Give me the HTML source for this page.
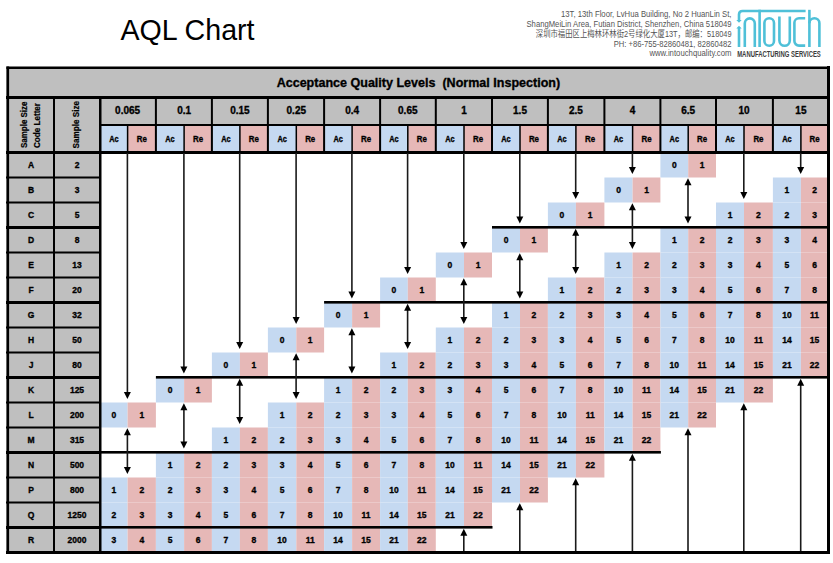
<!DOCTYPE html>
<html><head><meta charset="utf-8"><title>AQL Chart</title>
<style>html,body{margin:0;padding:0;background:#fff;}body{width:833px;height:563px;position:relative;overflow:hidden;}</style>
</head><body>
<svg width="833" height="563" viewBox="0 0 833 563" style="position:absolute;left:0;top:0"><rect x="8" y="68" width="820" height="29" fill="#bfbfbf"/><rect x="8" y="97" width="92" height="56" fill="#bfbfbf"/><rect x="100" y="97" width="729" height="28" fill="#bfbfbf"/><rect x="100.2" y="125" width="27.4" height="27" fill="#c5d9f1"/><rect x="127.6" y="125" width="28.3" height="27" fill="#e6b8b7"/><rect x="155.9" y="125" width="28.2" height="27" fill="#c5d9f1"/><rect x="184.1" y="125" width="27.8" height="27" fill="#e6b8b7"/><rect x="211.9" y="125" width="28.0" height="27" fill="#c5d9f1"/><rect x="239.9" y="125" width="28.0" height="27" fill="#e6b8b7"/><rect x="267.9" y="125" width="28.4" height="27" fill="#c5d9f1"/><rect x="296.3" y="125" width="27.8" height="27" fill="#e6b8b7"/><rect x="324.1" y="125" width="28.0" height="27" fill="#c5d9f1"/><rect x="352.1" y="125" width="28.0" height="27" fill="#e6b8b7"/><rect x="380.1" y="125" width="27.7" height="27" fill="#c5d9f1"/><rect x="407.8" y="125" width="28.0" height="27" fill="#e6b8b7"/><rect x="435.8" y="125" width="28.2" height="27" fill="#c5d9f1"/><rect x="464.0" y="125" width="28.0" height="27" fill="#e6b8b7"/><rect x="492.0" y="125" width="28.0" height="27" fill="#c5d9f1"/><rect x="520.0" y="125" width="27.9" height="27" fill="#e6b8b7"/><rect x="547.9" y="125" width="28.0" height="27" fill="#c5d9f1"/><rect x="575.9" y="125" width="28.5" height="27" fill="#e6b8b7"/><rect x="604.4" y="125" width="28.2" height="27" fill="#c5d9f1"/><rect x="632.6" y="125" width="27.8" height="27" fill="#e6b8b7"/><rect x="660.4" y="125" width="27.8" height="27" fill="#c5d9f1"/><rect x="688.2" y="125" width="27.8" height="27" fill="#e6b8b7"/><rect x="716.0" y="125" width="28.0" height="27" fill="#c5d9f1"/><rect x="744.0" y="125" width="28.9" height="27" fill="#e6b8b7"/><rect x="772.9" y="125" width="28.0" height="27" fill="#c5d9f1"/><rect x="800.9" y="125" width="27.3" height="27" fill="#e6b8b7"/><rect x="8" y="152" width="92" height="400" fill="#bfbfbf"/><rect x="100" y="152" width="728" height="400" fill="#fff"/><rect x="660.4" y="152.5" width="27.8" height="25" fill="#c5d9f1"/><rect x="688.2" y="152.5" width="27.8" height="25" fill="#e6b8b7"/><rect x="604.4" y="177.5" width="28.2" height="25" fill="#c5d9f1"/><rect x="632.6" y="177.5" width="27.8" height="25" fill="#e6b8b7"/><rect x="772.9" y="177.5" width="28.0" height="25" fill="#c5d9f1"/><rect x="800.9" y="177.5" width="27.3" height="25" fill="#e6b8b7"/><rect x="547.9" y="202.5" width="28.0" height="25" fill="#c5d9f1"/><rect x="575.9" y="202.5" width="28.5" height="25" fill="#e6b8b7"/><rect x="716.0" y="202.5" width="28.0" height="25" fill="#c5d9f1"/><rect x="744.0" y="202.5" width="28.9" height="25" fill="#e6b8b7"/><rect x="772.9" y="202.5" width="28.0" height="25" fill="#c5d9f1"/><rect x="800.9" y="202.5" width="27.3" height="25" fill="#e6b8b7"/><rect x="492.0" y="227.5" width="28.0" height="25" fill="#c5d9f1"/><rect x="520.0" y="227.5" width="27.9" height="25" fill="#e6b8b7"/><rect x="660.4" y="227.5" width="27.8" height="25" fill="#c5d9f1"/><rect x="688.2" y="227.5" width="27.8" height="25" fill="#e6b8b7"/><rect x="716.0" y="227.5" width="28.0" height="25" fill="#c5d9f1"/><rect x="744.0" y="227.5" width="28.9" height="25" fill="#e6b8b7"/><rect x="772.9" y="227.5" width="28.0" height="25" fill="#c5d9f1"/><rect x="800.9" y="227.5" width="27.3" height="25" fill="#e6b8b7"/><rect x="435.8" y="252.5" width="28.2" height="25" fill="#c5d9f1"/><rect x="464.0" y="252.5" width="28.0" height="25" fill="#e6b8b7"/><rect x="604.4" y="252.5" width="28.2" height="25" fill="#c5d9f1"/><rect x="632.6" y="252.5" width="27.8" height="25" fill="#e6b8b7"/><rect x="660.4" y="252.5" width="27.8" height="25" fill="#c5d9f1"/><rect x="688.2" y="252.5" width="27.8" height="25" fill="#e6b8b7"/><rect x="716.0" y="252.5" width="28.0" height="25" fill="#c5d9f1"/><rect x="744.0" y="252.5" width="28.9" height="25" fill="#e6b8b7"/><rect x="772.9" y="252.5" width="28.0" height="25" fill="#c5d9f1"/><rect x="800.9" y="252.5" width="27.3" height="25" fill="#e6b8b7"/><rect x="380.1" y="277.5" width="27.7" height="25" fill="#c5d9f1"/><rect x="407.8" y="277.5" width="28.0" height="25" fill="#e6b8b7"/><rect x="547.9" y="277.5" width="28.0" height="25" fill="#c5d9f1"/><rect x="575.9" y="277.5" width="28.5" height="25" fill="#e6b8b7"/><rect x="604.4" y="277.5" width="28.2" height="25" fill="#c5d9f1"/><rect x="632.6" y="277.5" width="27.8" height="25" fill="#e6b8b7"/><rect x="660.4" y="277.5" width="27.8" height="25" fill="#c5d9f1"/><rect x="688.2" y="277.5" width="27.8" height="25" fill="#e6b8b7"/><rect x="716.0" y="277.5" width="28.0" height="25" fill="#c5d9f1"/><rect x="744.0" y="277.5" width="28.9" height="25" fill="#e6b8b7"/><rect x="772.9" y="277.5" width="28.0" height="25" fill="#c5d9f1"/><rect x="800.9" y="277.5" width="27.3" height="25" fill="#e6b8b7"/><rect x="324.1" y="302.5" width="28.0" height="25" fill="#c5d9f1"/><rect x="352.1" y="302.5" width="28.0" height="25" fill="#e6b8b7"/><rect x="492.0" y="302.5" width="28.0" height="25" fill="#c5d9f1"/><rect x="520.0" y="302.5" width="27.9" height="25" fill="#e6b8b7"/><rect x="547.9" y="302.5" width="28.0" height="25" fill="#c5d9f1"/><rect x="575.9" y="302.5" width="28.5" height="25" fill="#e6b8b7"/><rect x="604.4" y="302.5" width="28.2" height="25" fill="#c5d9f1"/><rect x="632.6" y="302.5" width="27.8" height="25" fill="#e6b8b7"/><rect x="660.4" y="302.5" width="27.8" height="25" fill="#c5d9f1"/><rect x="688.2" y="302.5" width="27.8" height="25" fill="#e6b8b7"/><rect x="716.0" y="302.5" width="28.0" height="25" fill="#c5d9f1"/><rect x="744.0" y="302.5" width="28.9" height="25" fill="#e6b8b7"/><rect x="772.9" y="302.5" width="28.0" height="25" fill="#c5d9f1"/><rect x="800.9" y="302.5" width="27.3" height="25" fill="#e6b8b7"/><rect x="267.9" y="327.5" width="28.4" height="25" fill="#c5d9f1"/><rect x="296.3" y="327.5" width="27.8" height="25" fill="#e6b8b7"/><rect x="435.8" y="327.5" width="28.2" height="25" fill="#c5d9f1"/><rect x="464.0" y="327.5" width="28.0" height="25" fill="#e6b8b7"/><rect x="492.0" y="327.5" width="28.0" height="25" fill="#c5d9f1"/><rect x="520.0" y="327.5" width="27.9" height="25" fill="#e6b8b7"/><rect x="547.9" y="327.5" width="28.0" height="25" fill="#c5d9f1"/><rect x="575.9" y="327.5" width="28.5" height="25" fill="#e6b8b7"/><rect x="604.4" y="327.5" width="28.2" height="25" fill="#c5d9f1"/><rect x="632.6" y="327.5" width="27.8" height="25" fill="#e6b8b7"/><rect x="660.4" y="327.5" width="27.8" height="25" fill="#c5d9f1"/><rect x="688.2" y="327.5" width="27.8" height="25" fill="#e6b8b7"/><rect x="716.0" y="327.5" width="28.0" height="25" fill="#c5d9f1"/><rect x="744.0" y="327.5" width="28.9" height="25" fill="#e6b8b7"/><rect x="772.9" y="327.5" width="28.0" height="25" fill="#c5d9f1"/><rect x="800.9" y="327.5" width="27.3" height="25" fill="#e6b8b7"/><rect x="211.9" y="352.5" width="28.0" height="25" fill="#c5d9f1"/><rect x="239.9" y="352.5" width="28.0" height="25" fill="#e6b8b7"/><rect x="380.1" y="352.5" width="27.7" height="25" fill="#c5d9f1"/><rect x="407.8" y="352.5" width="28.0" height="25" fill="#e6b8b7"/><rect x="435.8" y="352.5" width="28.2" height="25" fill="#c5d9f1"/><rect x="464.0" y="352.5" width="28.0" height="25" fill="#e6b8b7"/><rect x="492.0" y="352.5" width="28.0" height="25" fill="#c5d9f1"/><rect x="520.0" y="352.5" width="27.9" height="25" fill="#e6b8b7"/><rect x="547.9" y="352.5" width="28.0" height="25" fill="#c5d9f1"/><rect x="575.9" y="352.5" width="28.5" height="25" fill="#e6b8b7"/><rect x="604.4" y="352.5" width="28.2" height="25" fill="#c5d9f1"/><rect x="632.6" y="352.5" width="27.8" height="25" fill="#e6b8b7"/><rect x="660.4" y="352.5" width="27.8" height="25" fill="#c5d9f1"/><rect x="688.2" y="352.5" width="27.8" height="25" fill="#e6b8b7"/><rect x="716.0" y="352.5" width="28.0" height="25" fill="#c5d9f1"/><rect x="744.0" y="352.5" width="28.9" height="25" fill="#e6b8b7"/><rect x="772.9" y="352.5" width="28.0" height="25" fill="#c5d9f1"/><rect x="800.9" y="352.5" width="27.3" height="25" fill="#e6b8b7"/><rect x="155.9" y="377.5" width="28.2" height="25" fill="#c5d9f1"/><rect x="184.1" y="377.5" width="27.8" height="25" fill="#e6b8b7"/><rect x="324.1" y="377.5" width="28.0" height="25" fill="#c5d9f1"/><rect x="352.1" y="377.5" width="28.0" height="25" fill="#e6b8b7"/><rect x="380.1" y="377.5" width="27.7" height="25" fill="#c5d9f1"/><rect x="407.8" y="377.5" width="28.0" height="25" fill="#e6b8b7"/><rect x="435.8" y="377.5" width="28.2" height="25" fill="#c5d9f1"/><rect x="464.0" y="377.5" width="28.0" height="25" fill="#e6b8b7"/><rect x="492.0" y="377.5" width="28.0" height="25" fill="#c5d9f1"/><rect x="520.0" y="377.5" width="27.9" height="25" fill="#e6b8b7"/><rect x="547.9" y="377.5" width="28.0" height="25" fill="#c5d9f1"/><rect x="575.9" y="377.5" width="28.5" height="25" fill="#e6b8b7"/><rect x="604.4" y="377.5" width="28.2" height="25" fill="#c5d9f1"/><rect x="632.6" y="377.5" width="27.8" height="25" fill="#e6b8b7"/><rect x="660.4" y="377.5" width="27.8" height="25" fill="#c5d9f1"/><rect x="688.2" y="377.5" width="27.8" height="25" fill="#e6b8b7"/><rect x="716.0" y="377.5" width="28.0" height="25" fill="#c5d9f1"/><rect x="744.0" y="377.5" width="28.9" height="25" fill="#e6b8b7"/><rect x="100.2" y="402.5" width="27.4" height="25" fill="#c5d9f1"/><rect x="127.6" y="402.5" width="28.3" height="25" fill="#e6b8b7"/><rect x="267.9" y="402.5" width="28.4" height="25" fill="#c5d9f1"/><rect x="296.3" y="402.5" width="27.8" height="25" fill="#e6b8b7"/><rect x="324.1" y="402.5" width="28.0" height="25" fill="#c5d9f1"/><rect x="352.1" y="402.5" width="28.0" height="25" fill="#e6b8b7"/><rect x="380.1" y="402.5" width="27.7" height="25" fill="#c5d9f1"/><rect x="407.8" y="402.5" width="28.0" height="25" fill="#e6b8b7"/><rect x="435.8" y="402.5" width="28.2" height="25" fill="#c5d9f1"/><rect x="464.0" y="402.5" width="28.0" height="25" fill="#e6b8b7"/><rect x="492.0" y="402.5" width="28.0" height="25" fill="#c5d9f1"/><rect x="520.0" y="402.5" width="27.9" height="25" fill="#e6b8b7"/><rect x="547.9" y="402.5" width="28.0" height="25" fill="#c5d9f1"/><rect x="575.9" y="402.5" width="28.5" height="25" fill="#e6b8b7"/><rect x="604.4" y="402.5" width="28.2" height="25" fill="#c5d9f1"/><rect x="632.6" y="402.5" width="27.8" height="25" fill="#e6b8b7"/><rect x="660.4" y="402.5" width="27.8" height="25" fill="#c5d9f1"/><rect x="688.2" y="402.5" width="27.8" height="25" fill="#e6b8b7"/><rect x="211.9" y="427.5" width="28.0" height="25" fill="#c5d9f1"/><rect x="239.9" y="427.5" width="28.0" height="25" fill="#e6b8b7"/><rect x="267.9" y="427.5" width="28.4" height="25" fill="#c5d9f1"/><rect x="296.3" y="427.5" width="27.8" height="25" fill="#e6b8b7"/><rect x="324.1" y="427.5" width="28.0" height="25" fill="#c5d9f1"/><rect x="352.1" y="427.5" width="28.0" height="25" fill="#e6b8b7"/><rect x="380.1" y="427.5" width="27.7" height="25" fill="#c5d9f1"/><rect x="407.8" y="427.5" width="28.0" height="25" fill="#e6b8b7"/><rect x="435.8" y="427.5" width="28.2" height="25" fill="#c5d9f1"/><rect x="464.0" y="427.5" width="28.0" height="25" fill="#e6b8b7"/><rect x="492.0" y="427.5" width="28.0" height="25" fill="#c5d9f1"/><rect x="520.0" y="427.5" width="27.9" height="25" fill="#e6b8b7"/><rect x="547.9" y="427.5" width="28.0" height="25" fill="#c5d9f1"/><rect x="575.9" y="427.5" width="28.5" height="25" fill="#e6b8b7"/><rect x="604.4" y="427.5" width="28.2" height="25" fill="#c5d9f1"/><rect x="632.6" y="427.5" width="27.8" height="25" fill="#e6b8b7"/><rect x="155.9" y="452.5" width="28.2" height="25" fill="#c5d9f1"/><rect x="184.1" y="452.5" width="27.8" height="25" fill="#e6b8b7"/><rect x="211.9" y="452.5" width="28.0" height="25" fill="#c5d9f1"/><rect x="239.9" y="452.5" width="28.0" height="25" fill="#e6b8b7"/><rect x="267.9" y="452.5" width="28.4" height="25" fill="#c5d9f1"/><rect x="296.3" y="452.5" width="27.8" height="25" fill="#e6b8b7"/><rect x="324.1" y="452.5" width="28.0" height="25" fill="#c5d9f1"/><rect x="352.1" y="452.5" width="28.0" height="25" fill="#e6b8b7"/><rect x="380.1" y="452.5" width="27.7" height="25" fill="#c5d9f1"/><rect x="407.8" y="452.5" width="28.0" height="25" fill="#e6b8b7"/><rect x="435.8" y="452.5" width="28.2" height="25" fill="#c5d9f1"/><rect x="464.0" y="452.5" width="28.0" height="25" fill="#e6b8b7"/><rect x="492.0" y="452.5" width="28.0" height="25" fill="#c5d9f1"/><rect x="520.0" y="452.5" width="27.9" height="25" fill="#e6b8b7"/><rect x="547.9" y="452.5" width="28.0" height="25" fill="#c5d9f1"/><rect x="575.9" y="452.5" width="28.5" height="25" fill="#e6b8b7"/><rect x="100.2" y="477.5" width="27.4" height="25" fill="#c5d9f1"/><rect x="127.6" y="477.5" width="28.3" height="25" fill="#e6b8b7"/><rect x="155.9" y="477.5" width="28.2" height="25" fill="#c5d9f1"/><rect x="184.1" y="477.5" width="27.8" height="25" fill="#e6b8b7"/><rect x="211.9" y="477.5" width="28.0" height="25" fill="#c5d9f1"/><rect x="239.9" y="477.5" width="28.0" height="25" fill="#e6b8b7"/><rect x="267.9" y="477.5" width="28.4" height="25" fill="#c5d9f1"/><rect x="296.3" y="477.5" width="27.8" height="25" fill="#e6b8b7"/><rect x="324.1" y="477.5" width="28.0" height="25" fill="#c5d9f1"/><rect x="352.1" y="477.5" width="28.0" height="25" fill="#e6b8b7"/><rect x="380.1" y="477.5" width="27.7" height="25" fill="#c5d9f1"/><rect x="407.8" y="477.5" width="28.0" height="25" fill="#e6b8b7"/><rect x="435.8" y="477.5" width="28.2" height="25" fill="#c5d9f1"/><rect x="464.0" y="477.5" width="28.0" height="25" fill="#e6b8b7"/><rect x="492.0" y="477.5" width="28.0" height="25" fill="#c5d9f1"/><rect x="520.0" y="477.5" width="27.9" height="25" fill="#e6b8b7"/><rect x="100.2" y="502.5" width="27.4" height="25" fill="#c5d9f1"/><rect x="127.6" y="502.5" width="28.3" height="25" fill="#e6b8b7"/><rect x="155.9" y="502.5" width="28.2" height="25" fill="#c5d9f1"/><rect x="184.1" y="502.5" width="27.8" height="25" fill="#e6b8b7"/><rect x="211.9" y="502.5" width="28.0" height="25" fill="#c5d9f1"/><rect x="239.9" y="502.5" width="28.0" height="25" fill="#e6b8b7"/><rect x="267.9" y="502.5" width="28.4" height="25" fill="#c5d9f1"/><rect x="296.3" y="502.5" width="27.8" height="25" fill="#e6b8b7"/><rect x="324.1" y="502.5" width="28.0" height="25" fill="#c5d9f1"/><rect x="352.1" y="502.5" width="28.0" height="25" fill="#e6b8b7"/><rect x="380.1" y="502.5" width="27.7" height="25" fill="#c5d9f1"/><rect x="407.8" y="502.5" width="28.0" height="25" fill="#e6b8b7"/><rect x="435.8" y="502.5" width="28.2" height="25" fill="#c5d9f1"/><rect x="464.0" y="502.5" width="28.0" height="25" fill="#e6b8b7"/><rect x="100.2" y="527.5" width="27.4" height="25" fill="#c5d9f1"/><rect x="127.6" y="527.5" width="28.3" height="25" fill="#e6b8b7"/><rect x="155.9" y="527.5" width="28.2" height="25" fill="#c5d9f1"/><rect x="184.1" y="527.5" width="27.8" height="25" fill="#e6b8b7"/><rect x="211.9" y="527.5" width="28.0" height="25" fill="#c5d9f1"/><rect x="239.9" y="527.5" width="28.0" height="25" fill="#e6b8b7"/><rect x="267.9" y="527.5" width="28.4" height="25" fill="#c5d9f1"/><rect x="296.3" y="527.5" width="27.8" height="25" fill="#e6b8b7"/><rect x="324.1" y="527.5" width="28.0" height="25" fill="#c5d9f1"/><rect x="352.1" y="527.5" width="28.0" height="25" fill="#e6b8b7"/><rect x="380.1" y="527.5" width="27.7" height="25" fill="#c5d9f1"/><rect x="407.8" y="527.5" width="28.0" height="25" fill="#e6b8b7"/><rect x="6.4" y="66.5" width="823.6" height="2.5" fill="#000"/><rect x="6" y="551" width="824" height="3" fill="#000"/><rect x="6.4" y="66.5" width="2.7" height="487.5" fill="#000"/><rect x="827" y="66" width="3" height="488" fill="#000"/><rect x="6" y="96" width="824" height="3" fill="#000"/><rect x="100" y="124" width="728" height="2" fill="#000"/><rect x="6" y="151" width="824" height="3" fill="#000"/><rect x="53" y="96" width="2" height="456" fill="#000"/><rect x="99" y="96" width="2.5" height="456" fill="#000"/><rect x="126.85" y="124" width="1.5" height="29" fill="#000"/><rect x="154.9" y="96" width="2" height="57" fill="#000"/><rect x="183.35" y="124" width="1.5" height="29" fill="#000"/><rect x="210.9" y="96" width="2" height="57" fill="#000"/><rect x="239.15" y="124" width="1.5" height="29" fill="#000"/><rect x="266.9" y="96" width="2" height="57" fill="#000"/><rect x="295.55" y="124" width="1.5" height="29" fill="#000"/><rect x="323.1" y="96" width="2" height="57" fill="#000"/><rect x="351.35" y="124" width="1.5" height="29" fill="#000"/><rect x="379.1" y="96" width="2" height="57" fill="#000"/><rect x="407.05" y="124" width="1.5" height="29" fill="#000"/><rect x="434.8" y="96" width="2" height="57" fill="#000"/><rect x="463.25" y="124" width="1.5" height="29" fill="#000"/><rect x="491.0" y="96" width="2" height="57" fill="#000"/><rect x="519.25" y="124" width="1.5" height="29" fill="#000"/><rect x="546.9" y="96" width="2" height="57" fill="#000"/><rect x="575.15" y="124" width="1.5" height="29" fill="#000"/><rect x="603.4" y="96" width="2" height="57" fill="#000"/><rect x="631.85" y="124" width="1.5" height="29" fill="#000"/><rect x="659.4" y="96" width="2" height="57" fill="#000"/><rect x="687.45" y="124" width="1.5" height="29" fill="#000"/><rect x="715.0" y="96" width="2" height="57" fill="#000"/><rect x="743.25" y="124" width="1.5" height="29" fill="#000"/><rect x="771.9" y="96" width="2" height="57" fill="#000"/><rect x="800.15" y="124" width="1.5" height="29" fill="#000"/><rect x="6" y="176.5" width="94" height="2" fill="#000"/><rect x="6" y="201.5" width="94" height="2" fill="#000"/><rect x="6" y="226" width="94" height="3" fill="#000"/><rect x="6" y="251.5" width="94" height="2" fill="#000"/><rect x="6" y="276.5" width="94" height="2" fill="#000"/><rect x="6" y="301" width="94" height="3" fill="#000"/><rect x="6" y="326.5" width="94" height="2" fill="#000"/><rect x="6" y="351.5" width="94" height="2" fill="#000"/><rect x="6" y="376" width="94" height="3" fill="#000"/><rect x="6" y="401.5" width="94" height="2" fill="#000"/><rect x="6" y="426.5" width="94" height="2" fill="#000"/><rect x="6" y="451" width="94" height="3" fill="#000"/><rect x="6" y="476.5" width="94" height="2" fill="#000"/><rect x="6" y="501.5" width="94" height="2" fill="#000"/><rect x="6" y="526" width="94" height="3" fill="#000"/><rect x="492.0" y="226" width="338.0" height="2.6" fill="#000"/><rect x="324.1" y="301" width="505.9" height="2.6" fill="#000"/><rect x="155.9" y="376" width="674.1" height="2.6" fill="#000"/><rect x="99" y="451" width="561.9" height="2.6" fill="#000"/><rect x="99" y="526" width="393.5" height="2.6" fill="#000"/><rect x="126.6" y="153" width="1.6" height="242.1" fill="#1a1a1a"/><path d="M123.9 392.1 L127.4 399.1 L130.9 392.1Z" fill="#000"/><rect x="126.6" y="432.2" width="1.6" height="37.9" fill="#1a1a1a"/><path d="M123.9 435.2 L127.4 428.2 L130.9 435.2Z" fill="#000"/><path d="M123.9 467.1 L127.4 474.1 L130.9 467.1Z" fill="#000"/><rect x="183.1" y="153" width="1.6" height="216.6" fill="#1a1a1a"/><path d="M180.4 366.6 L183.9 373.6 L187.4 366.6Z" fill="#000"/><rect x="183.1" y="407.2" width="1.6" height="37.4" fill="#1a1a1a"/><path d="M180.4 410.2 L183.9 403.2 L187.4 410.2Z" fill="#000"/><path d="M180.4 441.6 L183.9 448.6 L187.4 441.6Z" fill="#000"/><rect x="238.9" y="153" width="1.6" height="192.1" fill="#1a1a1a"/><path d="M236.2 342.1 L239.7 349.1 L243.2 342.1Z" fill="#000"/><rect x="238.9" y="382.7" width="1.6" height="37.4" fill="#1a1a1a"/><path d="M236.2 385.7 L239.7 378.7 L243.2 385.7Z" fill="#000"/><path d="M236.2 417.1 L239.7 424.1 L243.2 417.1Z" fill="#000"/><rect x="295.3" y="153" width="1.6" height="167.1" fill="#1a1a1a"/><path d="M292.6 317.1 L296.1 324.1 L299.6 317.1Z" fill="#000"/><rect x="295.3" y="357.2" width="1.6" height="37.9" fill="#1a1a1a"/><path d="M292.6 360.2 L296.1 353.2 L299.6 360.2Z" fill="#000"/><path d="M292.6 392.1 L296.1 399.1 L299.6 392.1Z" fill="#000"/><rect x="351.1" y="153" width="1.6" height="141.6" fill="#1a1a1a"/><path d="M348.4 291.6 L351.9 298.6 L355.4 291.6Z" fill="#000"/><rect x="351.1" y="332.2" width="1.6" height="37.4" fill="#1a1a1a"/><path d="M348.4 335.2 L351.9 328.2 L355.4 335.2Z" fill="#000"/><path d="M348.4 366.6 L351.9 373.6 L355.4 366.6Z" fill="#000"/><rect x="406.8" y="153" width="1.6" height="117.1" fill="#1a1a1a"/><path d="M404.1 267.1 L407.6 274.1 L411.1 267.1Z" fill="#000"/><rect x="406.8" y="307.7" width="1.6" height="37.4" fill="#1a1a1a"/><path d="M404.1 310.7 L407.6 303.7 L411.1 310.7Z" fill="#000"/><path d="M404.1 342.1 L407.6 349.1 L411.1 342.1Z" fill="#000"/><rect x="463.0" y="153" width="1.6" height="92.1" fill="#1a1a1a"/><path d="M460.3 242.1 L463.8 249.1 L467.3 242.1Z" fill="#000"/><rect x="463.0" y="282.2" width="1.6" height="37.9" fill="#1a1a1a"/><path d="M460.3 285.2 L463.8 278.2 L467.3 285.2Z" fill="#000"/><path d="M460.3 317.1 L463.8 324.1 L467.3 317.1Z" fill="#000"/><rect x="463.0" y="532.7" width="1.6" height="18.3" fill="#1a1a1a"/><path d="M460.3 535.7 L463.8 528.7 L467.3 535.7Z" fill="#000"/><rect x="519.0" y="153" width="1.6" height="66.6" fill="#1a1a1a"/><path d="M516.3 216.6 L519.8 223.6 L523.3 216.6Z" fill="#000"/><rect x="519.0" y="257.2" width="1.6" height="37.4" fill="#1a1a1a"/><path d="M516.3 260.2 L519.8 253.2 L523.3 260.2Z" fill="#000"/><path d="M516.3 291.6 L519.8 298.6 L523.3 291.6Z" fill="#000"/><rect x="519.0" y="507.2" width="1.6" height="43.8" fill="#1a1a1a"/><path d="M516.3 510.2 L519.8 503.2 L523.3 510.2Z" fill="#000"/><rect x="574.9" y="153" width="1.6" height="42.1" fill="#1a1a1a"/><path d="M572.2 192.1 L575.7 199.1 L579.2 192.1Z" fill="#000"/><rect x="574.9" y="232.7" width="1.6" height="37.4" fill="#1a1a1a"/><path d="M572.2 235.7 L575.7 228.7 L579.2 235.7Z" fill="#000"/><path d="M572.2 267.1 L575.7 274.1 L579.2 267.1Z" fill="#000"/><rect x="574.9" y="482.2" width="1.6" height="68.8" fill="#1a1a1a"/><path d="M572.2 485.2 L575.7 478.2 L579.2 485.2Z" fill="#000"/><rect x="631.6" y="153" width="1.6" height="17.1" fill="#1a1a1a"/><path d="M628.9 167.1 L632.4 174.1 L635.9 167.1Z" fill="#000"/><rect x="631.6" y="207.2" width="1.6" height="37.9" fill="#1a1a1a"/><path d="M628.9 210.2 L632.4 203.2 L635.9 210.2Z" fill="#000"/><path d="M628.9 242.1 L632.4 249.1 L635.9 242.1Z" fill="#000"/><rect x="631.6" y="457.7" width="1.6" height="93.3" fill="#1a1a1a"/><path d="M628.9 460.7 L632.4 453.7 L635.9 460.7Z" fill="#000"/><rect x="687.2" y="182.2" width="1.6" height="37.4" fill="#1a1a1a"/><path d="M684.5 185.2 L688.0 178.2 L691.5 185.2Z" fill="#000"/><path d="M684.5 216.6 L688.0 223.6 L691.5 216.6Z" fill="#000"/><rect x="687.2" y="432.2" width="1.6" height="118.8" fill="#1a1a1a"/><path d="M684.5 435.2 L688.0 428.2 L691.5 435.2Z" fill="#000"/><rect x="743.0" y="153" width="1.6" height="42.1" fill="#1a1a1a"/><path d="M740.3 192.1 L743.8 199.1 L747.3 192.1Z" fill="#000"/><rect x="743.0" y="407.2" width="1.6" height="143.8" fill="#1a1a1a"/><path d="M740.3 410.2 L743.8 403.2 L747.3 410.2Z" fill="#000"/><rect x="799.9" y="153" width="1.6" height="17.1" fill="#1a1a1a"/><path d="M797.2 167.1 L800.7 174.1 L804.2 167.1Z" fill="#000"/><rect x="799.9" y="382.7" width="1.6" height="168.3" fill="#1a1a1a"/><path d="M797.2 385.7 L800.7 378.7 L804.2 385.7Z" fill="#000"/><g font-family="'Liberation Sans', Arial, sans-serif"><text x="418.4" y="87" font-size="12.2" font-weight="bold" text-anchor="middle" fill="#000" stroke="#000" stroke-width="0.32" textLength="283.5" lengthAdjust="spacingAndGlyphs">Acceptance Quality Levels&#160;&#160;(Normal Inspection)</text><text x="127.6" y="114" font-size="10" font-weight="bold" text-anchor="middle" fill="#000" stroke="#000" stroke-width="0.32" >0.065</text><text x="184.1" y="114" font-size="10" font-weight="bold" text-anchor="middle" fill="#000" stroke="#000" stroke-width="0.32" >0.1</text><text x="239.9" y="114" font-size="10" font-weight="bold" text-anchor="middle" fill="#000" stroke="#000" stroke-width="0.32" >0.15</text><text x="296.3" y="114" font-size="10" font-weight="bold" text-anchor="middle" fill="#000" stroke="#000" stroke-width="0.32" >0.25</text><text x="352.1" y="114" font-size="10" font-weight="bold" text-anchor="middle" fill="#000" stroke="#000" stroke-width="0.32" >0.4</text><text x="407.8" y="114" font-size="10" font-weight="bold" text-anchor="middle" fill="#000" stroke="#000" stroke-width="0.32" >0.65</text><text x="464.0" y="114" font-size="10" font-weight="bold" text-anchor="middle" fill="#000" stroke="#000" stroke-width="0.32" >1</text><text x="520.0" y="114" font-size="10" font-weight="bold" text-anchor="middle" fill="#000" stroke="#000" stroke-width="0.32" >1.5</text><text x="575.9" y="114" font-size="10" font-weight="bold" text-anchor="middle" fill="#000" stroke="#000" stroke-width="0.32" >2.5</text><text x="632.6" y="114" font-size="10" font-weight="bold" text-anchor="middle" fill="#000" stroke="#000" stroke-width="0.32" >4</text><text x="688.2" y="114" font-size="10" font-weight="bold" text-anchor="middle" fill="#000" stroke="#000" stroke-width="0.32" >6.5</text><text x="744.0" y="114" font-size="10" font-weight="bold" text-anchor="middle" fill="#000" stroke="#000" stroke-width="0.32" >10</text><text x="800.9" y="114" font-size="10" font-weight="bold" text-anchor="middle" fill="#000" stroke="#000" stroke-width="0.32" >15</text><text transform="translate(113.9 142.2) scale(0.87 1)" font-size="8.5" font-weight="bold" text-anchor="middle" fill="#000" stroke="#000" stroke-width="0.32" >Ac</text><text transform="translate(141.75 142.2) scale(0.93 1)" font-size="8.5" font-weight="bold" text-anchor="middle" fill="#000" stroke="#000" stroke-width="0.32" >Re</text><text transform="translate(170.0 142.2) scale(0.87 1)" font-size="8.5" font-weight="bold" text-anchor="middle" fill="#000" stroke="#000" stroke-width="0.32" >Ac</text><text transform="translate(198.0 142.2) scale(0.93 1)" font-size="8.5" font-weight="bold" text-anchor="middle" fill="#000" stroke="#000" stroke-width="0.32" >Re</text><text transform="translate(225.9 142.2) scale(0.87 1)" font-size="8.5" font-weight="bold" text-anchor="middle" fill="#000" stroke="#000" stroke-width="0.32" >Ac</text><text transform="translate(253.9 142.2) scale(0.93 1)" font-size="8.5" font-weight="bold" text-anchor="middle" fill="#000" stroke="#000" stroke-width="0.32" >Re</text><text transform="translate(282.1 142.2) scale(0.87 1)" font-size="8.5" font-weight="bold" text-anchor="middle" fill="#000" stroke="#000" stroke-width="0.32" >Ac</text><text transform="translate(310.2 142.2) scale(0.93 1)" font-size="8.5" font-weight="bold" text-anchor="middle" fill="#000" stroke="#000" stroke-width="0.32" >Re</text><text transform="translate(338.1 142.2) scale(0.87 1)" font-size="8.5" font-weight="bold" text-anchor="middle" fill="#000" stroke="#000" stroke-width="0.32" >Ac</text><text transform="translate(366.1 142.2) scale(0.93 1)" font-size="8.5" font-weight="bold" text-anchor="middle" fill="#000" stroke="#000" stroke-width="0.32" >Re</text><text transform="translate(393.95 142.2) scale(0.87 1)" font-size="8.5" font-weight="bold" text-anchor="middle" fill="#000" stroke="#000" stroke-width="0.32" >Ac</text><text transform="translate(421.8 142.2) scale(0.93 1)" font-size="8.5" font-weight="bold" text-anchor="middle" fill="#000" stroke="#000" stroke-width="0.32" >Re</text><text transform="translate(449.9 142.2) scale(0.87 1)" font-size="8.5" font-weight="bold" text-anchor="middle" fill="#000" stroke="#000" stroke-width="0.32" >Ac</text><text transform="translate(478.0 142.2) scale(0.93 1)" font-size="8.5" font-weight="bold" text-anchor="middle" fill="#000" stroke="#000" stroke-width="0.32" >Re</text><text transform="translate(506.0 142.2) scale(0.87 1)" font-size="8.5" font-weight="bold" text-anchor="middle" fill="#000" stroke="#000" stroke-width="0.32" >Ac</text><text transform="translate(533.95 142.2) scale(0.93 1)" font-size="8.5" font-weight="bold" text-anchor="middle" fill="#000" stroke="#000" stroke-width="0.32" >Re</text><text transform="translate(561.9 142.2) scale(0.87 1)" font-size="8.5" font-weight="bold" text-anchor="middle" fill="#000" stroke="#000" stroke-width="0.32" >Ac</text><text transform="translate(590.15 142.2) scale(0.93 1)" font-size="8.5" font-weight="bold" text-anchor="middle" fill="#000" stroke="#000" stroke-width="0.32" >Re</text><text transform="translate(618.5 142.2) scale(0.87 1)" font-size="8.5" font-weight="bold" text-anchor="middle" fill="#000" stroke="#000" stroke-width="0.32" >Ac</text><text transform="translate(646.5 142.2) scale(0.93 1)" font-size="8.5" font-weight="bold" text-anchor="middle" fill="#000" stroke="#000" stroke-width="0.32" >Re</text><text transform="translate(674.3 142.2) scale(0.87 1)" font-size="8.5" font-weight="bold" text-anchor="middle" fill="#000" stroke="#000" stroke-width="0.32" >Ac</text><text transform="translate(702.1 142.2) scale(0.93 1)" font-size="8.5" font-weight="bold" text-anchor="middle" fill="#000" stroke="#000" stroke-width="0.32" >Re</text><text transform="translate(730.0 142.2) scale(0.87 1)" font-size="8.5" font-weight="bold" text-anchor="middle" fill="#000" stroke="#000" stroke-width="0.32" >Ac</text><text transform="translate(758.45 142.2) scale(0.93 1)" font-size="8.5" font-weight="bold" text-anchor="middle" fill="#000" stroke="#000" stroke-width="0.32" >Re</text><text transform="translate(786.9 142.2) scale(0.87 1)" font-size="8.5" font-weight="bold" text-anchor="middle" fill="#000" stroke="#000" stroke-width="0.32" >Ac</text><text transform="translate(814.55 142.2) scale(0.93 1)" font-size="8.5" font-weight="bold" text-anchor="middle" fill="#000" stroke="#000" stroke-width="0.32" >Re</text><text x="31" y="168.2" font-size="8.5" font-weight="bold" text-anchor="middle" fill="#000" stroke="#000" stroke-width="0.32" >A</text><text x="77" y="168.2" font-size="8.5" font-weight="bold" text-anchor="middle" fill="#000" stroke="#000" stroke-width="0.32" >2</text><text x="674.3" y="168.2" font-size="8.5" font-weight="bold" text-anchor="middle" fill="#000" stroke="#000" stroke-width="0.32" >0</text><text x="702.1" y="168.2" font-size="8.5" font-weight="bold" text-anchor="middle" fill="#000" stroke="#000" stroke-width="0.32" >1</text><text x="31" y="193.2" font-size="8.5" font-weight="bold" text-anchor="middle" fill="#000" stroke="#000" stroke-width="0.32" >B</text><text x="77" y="193.2" font-size="8.5" font-weight="bold" text-anchor="middle" fill="#000" stroke="#000" stroke-width="0.32" >3</text><text x="618.5" y="193.2" font-size="8.5" font-weight="bold" text-anchor="middle" fill="#000" stroke="#000" stroke-width="0.32" >0</text><text x="646.5" y="193.2" font-size="8.5" font-weight="bold" text-anchor="middle" fill="#000" stroke="#000" stroke-width="0.32" >1</text><text x="786.9" y="193.2" font-size="8.5" font-weight="bold" text-anchor="middle" fill="#000" stroke="#000" stroke-width="0.32" >1</text><text x="814.55" y="193.2" font-size="8.5" font-weight="bold" text-anchor="middle" fill="#000" stroke="#000" stroke-width="0.32" >2</text><text x="31" y="218.2" font-size="8.5" font-weight="bold" text-anchor="middle" fill="#000" stroke="#000" stroke-width="0.32" >C</text><text x="77" y="218.2" font-size="8.5" font-weight="bold" text-anchor="middle" fill="#000" stroke="#000" stroke-width="0.32" >5</text><text x="561.9" y="218.2" font-size="8.5" font-weight="bold" text-anchor="middle" fill="#000" stroke="#000" stroke-width="0.32" >0</text><text x="590.15" y="218.2" font-size="8.5" font-weight="bold" text-anchor="middle" fill="#000" stroke="#000" stroke-width="0.32" >1</text><text x="730.0" y="218.2" font-size="8.5" font-weight="bold" text-anchor="middle" fill="#000" stroke="#000" stroke-width="0.32" >1</text><text x="758.45" y="218.2" font-size="8.5" font-weight="bold" text-anchor="middle" fill="#000" stroke="#000" stroke-width="0.32" >2</text><text x="786.9" y="218.2" font-size="8.5" font-weight="bold" text-anchor="middle" fill="#000" stroke="#000" stroke-width="0.32" >2</text><text x="814.55" y="218.2" font-size="8.5" font-weight="bold" text-anchor="middle" fill="#000" stroke="#000" stroke-width="0.32" >3</text><text x="31" y="243.2" font-size="8.5" font-weight="bold" text-anchor="middle" fill="#000" stroke="#000" stroke-width="0.32" >D</text><text x="77" y="243.2" font-size="8.5" font-weight="bold" text-anchor="middle" fill="#000" stroke="#000" stroke-width="0.32" >8</text><text x="506.0" y="243.2" font-size="8.5" font-weight="bold" text-anchor="middle" fill="#000" stroke="#000" stroke-width="0.32" >0</text><text x="533.95" y="243.2" font-size="8.5" font-weight="bold" text-anchor="middle" fill="#000" stroke="#000" stroke-width="0.32" >1</text><text x="674.3" y="243.2" font-size="8.5" font-weight="bold" text-anchor="middle" fill="#000" stroke="#000" stroke-width="0.32" >1</text><text x="702.1" y="243.2" font-size="8.5" font-weight="bold" text-anchor="middle" fill="#000" stroke="#000" stroke-width="0.32" >2</text><text x="730.0" y="243.2" font-size="8.5" font-weight="bold" text-anchor="middle" fill="#000" stroke="#000" stroke-width="0.32" >2</text><text x="758.45" y="243.2" font-size="8.5" font-weight="bold" text-anchor="middle" fill="#000" stroke="#000" stroke-width="0.32" >3</text><text x="786.9" y="243.2" font-size="8.5" font-weight="bold" text-anchor="middle" fill="#000" stroke="#000" stroke-width="0.32" >3</text><text x="814.55" y="243.2" font-size="8.5" font-weight="bold" text-anchor="middle" fill="#000" stroke="#000" stroke-width="0.32" >4</text><text x="31" y="268.2" font-size="8.5" font-weight="bold" text-anchor="middle" fill="#000" stroke="#000" stroke-width="0.32" >E</text><text x="77" y="268.2" font-size="8.5" font-weight="bold" text-anchor="middle" fill="#000" stroke="#000" stroke-width="0.32" >13</text><text x="449.9" y="268.2" font-size="8.5" font-weight="bold" text-anchor="middle" fill="#000" stroke="#000" stroke-width="0.32" >0</text><text x="478.0" y="268.2" font-size="8.5" font-weight="bold" text-anchor="middle" fill="#000" stroke="#000" stroke-width="0.32" >1</text><text x="618.5" y="268.2" font-size="8.5" font-weight="bold" text-anchor="middle" fill="#000" stroke="#000" stroke-width="0.32" >1</text><text x="646.5" y="268.2" font-size="8.5" font-weight="bold" text-anchor="middle" fill="#000" stroke="#000" stroke-width="0.32" >2</text><text x="674.3" y="268.2" font-size="8.5" font-weight="bold" text-anchor="middle" fill="#000" stroke="#000" stroke-width="0.32" >2</text><text x="702.1" y="268.2" font-size="8.5" font-weight="bold" text-anchor="middle" fill="#000" stroke="#000" stroke-width="0.32" >3</text><text x="730.0" y="268.2" font-size="8.5" font-weight="bold" text-anchor="middle" fill="#000" stroke="#000" stroke-width="0.32" >3</text><text x="758.45" y="268.2" font-size="8.5" font-weight="bold" text-anchor="middle" fill="#000" stroke="#000" stroke-width="0.32" >4</text><text x="786.9" y="268.2" font-size="8.5" font-weight="bold" text-anchor="middle" fill="#000" stroke="#000" stroke-width="0.32" >5</text><text x="814.55" y="268.2" font-size="8.5" font-weight="bold" text-anchor="middle" fill="#000" stroke="#000" stroke-width="0.32" >6</text><text x="31" y="293.2" font-size="8.5" font-weight="bold" text-anchor="middle" fill="#000" stroke="#000" stroke-width="0.32" >F</text><text x="77" y="293.2" font-size="8.5" font-weight="bold" text-anchor="middle" fill="#000" stroke="#000" stroke-width="0.32" >20</text><text x="393.95" y="293.2" font-size="8.5" font-weight="bold" text-anchor="middle" fill="#000" stroke="#000" stroke-width="0.32" >0</text><text x="421.8" y="293.2" font-size="8.5" font-weight="bold" text-anchor="middle" fill="#000" stroke="#000" stroke-width="0.32" >1</text><text x="561.9" y="293.2" font-size="8.5" font-weight="bold" text-anchor="middle" fill="#000" stroke="#000" stroke-width="0.32" >1</text><text x="590.15" y="293.2" font-size="8.5" font-weight="bold" text-anchor="middle" fill="#000" stroke="#000" stroke-width="0.32" >2</text><text x="618.5" y="293.2" font-size="8.5" font-weight="bold" text-anchor="middle" fill="#000" stroke="#000" stroke-width="0.32" >2</text><text x="646.5" y="293.2" font-size="8.5" font-weight="bold" text-anchor="middle" fill="#000" stroke="#000" stroke-width="0.32" >3</text><text x="674.3" y="293.2" font-size="8.5" font-weight="bold" text-anchor="middle" fill="#000" stroke="#000" stroke-width="0.32" >3</text><text x="702.1" y="293.2" font-size="8.5" font-weight="bold" text-anchor="middle" fill="#000" stroke="#000" stroke-width="0.32" >4</text><text x="730.0" y="293.2" font-size="8.5" font-weight="bold" text-anchor="middle" fill="#000" stroke="#000" stroke-width="0.32" >5</text><text x="758.45" y="293.2" font-size="8.5" font-weight="bold" text-anchor="middle" fill="#000" stroke="#000" stroke-width="0.32" >6</text><text x="786.9" y="293.2" font-size="8.5" font-weight="bold" text-anchor="middle" fill="#000" stroke="#000" stroke-width="0.32" >7</text><text x="814.55" y="293.2" font-size="8.5" font-weight="bold" text-anchor="middle" fill="#000" stroke="#000" stroke-width="0.32" >8</text><text x="31" y="318.2" font-size="8.5" font-weight="bold" text-anchor="middle" fill="#000" stroke="#000" stroke-width="0.32" >G</text><text x="77" y="318.2" font-size="8.5" font-weight="bold" text-anchor="middle" fill="#000" stroke="#000" stroke-width="0.32" >32</text><text x="338.1" y="318.2" font-size="8.5" font-weight="bold" text-anchor="middle" fill="#000" stroke="#000" stroke-width="0.32" >0</text><text x="366.1" y="318.2" font-size="8.5" font-weight="bold" text-anchor="middle" fill="#000" stroke="#000" stroke-width="0.32" >1</text><text x="506.0" y="318.2" font-size="8.5" font-weight="bold" text-anchor="middle" fill="#000" stroke="#000" stroke-width="0.32" >1</text><text x="533.95" y="318.2" font-size="8.5" font-weight="bold" text-anchor="middle" fill="#000" stroke="#000" stroke-width="0.32" >2</text><text x="561.9" y="318.2" font-size="8.5" font-weight="bold" text-anchor="middle" fill="#000" stroke="#000" stroke-width="0.32" >2</text><text x="590.15" y="318.2" font-size="8.5" font-weight="bold" text-anchor="middle" fill="#000" stroke="#000" stroke-width="0.32" >3</text><text x="618.5" y="318.2" font-size="8.5" font-weight="bold" text-anchor="middle" fill="#000" stroke="#000" stroke-width="0.32" >3</text><text x="646.5" y="318.2" font-size="8.5" font-weight="bold" text-anchor="middle" fill="#000" stroke="#000" stroke-width="0.32" >4</text><text x="674.3" y="318.2" font-size="8.5" font-weight="bold" text-anchor="middle" fill="#000" stroke="#000" stroke-width="0.32" >5</text><text x="702.1" y="318.2" font-size="8.5" font-weight="bold" text-anchor="middle" fill="#000" stroke="#000" stroke-width="0.32" >6</text><text x="730.0" y="318.2" font-size="8.5" font-weight="bold" text-anchor="middle" fill="#000" stroke="#000" stroke-width="0.32" >7</text><text x="758.45" y="318.2" font-size="8.5" font-weight="bold" text-anchor="middle" fill="#000" stroke="#000" stroke-width="0.32" >8</text><text x="786.9" y="318.2" font-size="8.5" font-weight="bold" text-anchor="middle" fill="#000" stroke="#000" stroke-width="0.32" >10</text><text x="814.55" y="318.2" font-size="8.5" font-weight="bold" text-anchor="middle" fill="#000" stroke="#000" stroke-width="0.32" >11</text><text x="31" y="343.2" font-size="8.5" font-weight="bold" text-anchor="middle" fill="#000" stroke="#000" stroke-width="0.32" >H</text><text x="77" y="343.2" font-size="8.5" font-weight="bold" text-anchor="middle" fill="#000" stroke="#000" stroke-width="0.32" >50</text><text x="282.1" y="343.2" font-size="8.5" font-weight="bold" text-anchor="middle" fill="#000" stroke="#000" stroke-width="0.32" >0</text><text x="310.2" y="343.2" font-size="8.5" font-weight="bold" text-anchor="middle" fill="#000" stroke="#000" stroke-width="0.32" >1</text><text x="449.9" y="343.2" font-size="8.5" font-weight="bold" text-anchor="middle" fill="#000" stroke="#000" stroke-width="0.32" >1</text><text x="478.0" y="343.2" font-size="8.5" font-weight="bold" text-anchor="middle" fill="#000" stroke="#000" stroke-width="0.32" >2</text><text x="506.0" y="343.2" font-size="8.5" font-weight="bold" text-anchor="middle" fill="#000" stroke="#000" stroke-width="0.32" >2</text><text x="533.95" y="343.2" font-size="8.5" font-weight="bold" text-anchor="middle" fill="#000" stroke="#000" stroke-width="0.32" >3</text><text x="561.9" y="343.2" font-size="8.5" font-weight="bold" text-anchor="middle" fill="#000" stroke="#000" stroke-width="0.32" >3</text><text x="590.15" y="343.2" font-size="8.5" font-weight="bold" text-anchor="middle" fill="#000" stroke="#000" stroke-width="0.32" >4</text><text x="618.5" y="343.2" font-size="8.5" font-weight="bold" text-anchor="middle" fill="#000" stroke="#000" stroke-width="0.32" >5</text><text x="646.5" y="343.2" font-size="8.5" font-weight="bold" text-anchor="middle" fill="#000" stroke="#000" stroke-width="0.32" >6</text><text x="674.3" y="343.2" font-size="8.5" font-weight="bold" text-anchor="middle" fill="#000" stroke="#000" stroke-width="0.32" >7</text><text x="702.1" y="343.2" font-size="8.5" font-weight="bold" text-anchor="middle" fill="#000" stroke="#000" stroke-width="0.32" >8</text><text x="730.0" y="343.2" font-size="8.5" font-weight="bold" text-anchor="middle" fill="#000" stroke="#000" stroke-width="0.32" >10</text><text x="758.45" y="343.2" font-size="8.5" font-weight="bold" text-anchor="middle" fill="#000" stroke="#000" stroke-width="0.32" >11</text><text x="786.9" y="343.2" font-size="8.5" font-weight="bold" text-anchor="middle" fill="#000" stroke="#000" stroke-width="0.32" >14</text><text x="814.55" y="343.2" font-size="8.5" font-weight="bold" text-anchor="middle" fill="#000" stroke="#000" stroke-width="0.32" >15</text><text x="31" y="368.2" font-size="8.5" font-weight="bold" text-anchor="middle" fill="#000" stroke="#000" stroke-width="0.32" >J</text><text x="77" y="368.2" font-size="8.5" font-weight="bold" text-anchor="middle" fill="#000" stroke="#000" stroke-width="0.32" >80</text><text x="225.9" y="368.2" font-size="8.5" font-weight="bold" text-anchor="middle" fill="#000" stroke="#000" stroke-width="0.32" >0</text><text x="253.9" y="368.2" font-size="8.5" font-weight="bold" text-anchor="middle" fill="#000" stroke="#000" stroke-width="0.32" >1</text><text x="393.95" y="368.2" font-size="8.5" font-weight="bold" text-anchor="middle" fill="#000" stroke="#000" stroke-width="0.32" >1</text><text x="421.8" y="368.2" font-size="8.5" font-weight="bold" text-anchor="middle" fill="#000" stroke="#000" stroke-width="0.32" >2</text><text x="449.9" y="368.2" font-size="8.5" font-weight="bold" text-anchor="middle" fill="#000" stroke="#000" stroke-width="0.32" >2</text><text x="478.0" y="368.2" font-size="8.5" font-weight="bold" text-anchor="middle" fill="#000" stroke="#000" stroke-width="0.32" >3</text><text x="506.0" y="368.2" font-size="8.5" font-weight="bold" text-anchor="middle" fill="#000" stroke="#000" stroke-width="0.32" >3</text><text x="533.95" y="368.2" font-size="8.5" font-weight="bold" text-anchor="middle" fill="#000" stroke="#000" stroke-width="0.32" >4</text><text x="561.9" y="368.2" font-size="8.5" font-weight="bold" text-anchor="middle" fill="#000" stroke="#000" stroke-width="0.32" >5</text><text x="590.15" y="368.2" font-size="8.5" font-weight="bold" text-anchor="middle" fill="#000" stroke="#000" stroke-width="0.32" >6</text><text x="618.5" y="368.2" font-size="8.5" font-weight="bold" text-anchor="middle" fill="#000" stroke="#000" stroke-width="0.32" >7</text><text x="646.5" y="368.2" font-size="8.5" font-weight="bold" text-anchor="middle" fill="#000" stroke="#000" stroke-width="0.32" >8</text><text x="674.3" y="368.2" font-size="8.5" font-weight="bold" text-anchor="middle" fill="#000" stroke="#000" stroke-width="0.32" >10</text><text x="702.1" y="368.2" font-size="8.5" font-weight="bold" text-anchor="middle" fill="#000" stroke="#000" stroke-width="0.32" >11</text><text x="730.0" y="368.2" font-size="8.5" font-weight="bold" text-anchor="middle" fill="#000" stroke="#000" stroke-width="0.32" >14</text><text x="758.45" y="368.2" font-size="8.5" font-weight="bold" text-anchor="middle" fill="#000" stroke="#000" stroke-width="0.32" >15</text><text x="786.9" y="368.2" font-size="8.5" font-weight="bold" text-anchor="middle" fill="#000" stroke="#000" stroke-width="0.32" >21</text><text x="814.55" y="368.2" font-size="8.5" font-weight="bold" text-anchor="middle" fill="#000" stroke="#000" stroke-width="0.32" >22</text><text x="31" y="393.2" font-size="8.5" font-weight="bold" text-anchor="middle" fill="#000" stroke="#000" stroke-width="0.32" >K</text><text x="77" y="393.2" font-size="8.5" font-weight="bold" text-anchor="middle" fill="#000" stroke="#000" stroke-width="0.32" >125</text><text x="170.0" y="393.2" font-size="8.5" font-weight="bold" text-anchor="middle" fill="#000" stroke="#000" stroke-width="0.32" >0</text><text x="198.0" y="393.2" font-size="8.5" font-weight="bold" text-anchor="middle" fill="#000" stroke="#000" stroke-width="0.32" >1</text><text x="338.1" y="393.2" font-size="8.5" font-weight="bold" text-anchor="middle" fill="#000" stroke="#000" stroke-width="0.32" >1</text><text x="366.1" y="393.2" font-size="8.5" font-weight="bold" text-anchor="middle" fill="#000" stroke="#000" stroke-width="0.32" >2</text><text x="393.95" y="393.2" font-size="8.5" font-weight="bold" text-anchor="middle" fill="#000" stroke="#000" stroke-width="0.32" >2</text><text x="421.8" y="393.2" font-size="8.5" font-weight="bold" text-anchor="middle" fill="#000" stroke="#000" stroke-width="0.32" >3</text><text x="449.9" y="393.2" font-size="8.5" font-weight="bold" text-anchor="middle" fill="#000" stroke="#000" stroke-width="0.32" >3</text><text x="478.0" y="393.2" font-size="8.5" font-weight="bold" text-anchor="middle" fill="#000" stroke="#000" stroke-width="0.32" >4</text><text x="506.0" y="393.2" font-size="8.5" font-weight="bold" text-anchor="middle" fill="#000" stroke="#000" stroke-width="0.32" >5</text><text x="533.95" y="393.2" font-size="8.5" font-weight="bold" text-anchor="middle" fill="#000" stroke="#000" stroke-width="0.32" >6</text><text x="561.9" y="393.2" font-size="8.5" font-weight="bold" text-anchor="middle" fill="#000" stroke="#000" stroke-width="0.32" >7</text><text x="590.15" y="393.2" font-size="8.5" font-weight="bold" text-anchor="middle" fill="#000" stroke="#000" stroke-width="0.32" >8</text><text x="618.5" y="393.2" font-size="8.5" font-weight="bold" text-anchor="middle" fill="#000" stroke="#000" stroke-width="0.32" >10</text><text x="646.5" y="393.2" font-size="8.5" font-weight="bold" text-anchor="middle" fill="#000" stroke="#000" stroke-width="0.32" >11</text><text x="674.3" y="393.2" font-size="8.5" font-weight="bold" text-anchor="middle" fill="#000" stroke="#000" stroke-width="0.32" >14</text><text x="702.1" y="393.2" font-size="8.5" font-weight="bold" text-anchor="middle" fill="#000" stroke="#000" stroke-width="0.32" >15</text><text x="730.0" y="393.2" font-size="8.5" font-weight="bold" text-anchor="middle" fill="#000" stroke="#000" stroke-width="0.32" >21</text><text x="758.45" y="393.2" font-size="8.5" font-weight="bold" text-anchor="middle" fill="#000" stroke="#000" stroke-width="0.32" >22</text><text x="31" y="418.2" font-size="8.5" font-weight="bold" text-anchor="middle" fill="#000" stroke="#000" stroke-width="0.32" >L</text><text x="77" y="418.2" font-size="8.5" font-weight="bold" text-anchor="middle" fill="#000" stroke="#000" stroke-width="0.32" >200</text><text x="113.9" y="418.2" font-size="8.5" font-weight="bold" text-anchor="middle" fill="#000" stroke="#000" stroke-width="0.32" >0</text><text x="141.75" y="418.2" font-size="8.5" font-weight="bold" text-anchor="middle" fill="#000" stroke="#000" stroke-width="0.32" >1</text><text x="282.1" y="418.2" font-size="8.5" font-weight="bold" text-anchor="middle" fill="#000" stroke="#000" stroke-width="0.32" >1</text><text x="310.2" y="418.2" font-size="8.5" font-weight="bold" text-anchor="middle" fill="#000" stroke="#000" stroke-width="0.32" >2</text><text x="338.1" y="418.2" font-size="8.5" font-weight="bold" text-anchor="middle" fill="#000" stroke="#000" stroke-width="0.32" >2</text><text x="366.1" y="418.2" font-size="8.5" font-weight="bold" text-anchor="middle" fill="#000" stroke="#000" stroke-width="0.32" >3</text><text x="393.95" y="418.2" font-size="8.5" font-weight="bold" text-anchor="middle" fill="#000" stroke="#000" stroke-width="0.32" >3</text><text x="421.8" y="418.2" font-size="8.5" font-weight="bold" text-anchor="middle" fill="#000" stroke="#000" stroke-width="0.32" >4</text><text x="449.9" y="418.2" font-size="8.5" font-weight="bold" text-anchor="middle" fill="#000" stroke="#000" stroke-width="0.32" >5</text><text x="478.0" y="418.2" font-size="8.5" font-weight="bold" text-anchor="middle" fill="#000" stroke="#000" stroke-width="0.32" >6</text><text x="506.0" y="418.2" font-size="8.5" font-weight="bold" text-anchor="middle" fill="#000" stroke="#000" stroke-width="0.32" >7</text><text x="533.95" y="418.2" font-size="8.5" font-weight="bold" text-anchor="middle" fill="#000" stroke="#000" stroke-width="0.32" >8</text><text x="561.9" y="418.2" font-size="8.5" font-weight="bold" text-anchor="middle" fill="#000" stroke="#000" stroke-width="0.32" >10</text><text x="590.15" y="418.2" font-size="8.5" font-weight="bold" text-anchor="middle" fill="#000" stroke="#000" stroke-width="0.32" >11</text><text x="618.5" y="418.2" font-size="8.5" font-weight="bold" text-anchor="middle" fill="#000" stroke="#000" stroke-width="0.32" >14</text><text x="646.5" y="418.2" font-size="8.5" font-weight="bold" text-anchor="middle" fill="#000" stroke="#000" stroke-width="0.32" >15</text><text x="674.3" y="418.2" font-size="8.5" font-weight="bold" text-anchor="middle" fill="#000" stroke="#000" stroke-width="0.32" >21</text><text x="702.1" y="418.2" font-size="8.5" font-weight="bold" text-anchor="middle" fill="#000" stroke="#000" stroke-width="0.32" >22</text><text x="31" y="443.2" font-size="8.5" font-weight="bold" text-anchor="middle" fill="#000" stroke="#000" stroke-width="0.32" >M</text><text x="77" y="443.2" font-size="8.5" font-weight="bold" text-anchor="middle" fill="#000" stroke="#000" stroke-width="0.32" >315</text><text x="225.9" y="443.2" font-size="8.5" font-weight="bold" text-anchor="middle" fill="#000" stroke="#000" stroke-width="0.32" >1</text><text x="253.9" y="443.2" font-size="8.5" font-weight="bold" text-anchor="middle" fill="#000" stroke="#000" stroke-width="0.32" >2</text><text x="282.1" y="443.2" font-size="8.5" font-weight="bold" text-anchor="middle" fill="#000" stroke="#000" stroke-width="0.32" >2</text><text x="310.2" y="443.2" font-size="8.5" font-weight="bold" text-anchor="middle" fill="#000" stroke="#000" stroke-width="0.32" >3</text><text x="338.1" y="443.2" font-size="8.5" font-weight="bold" text-anchor="middle" fill="#000" stroke="#000" stroke-width="0.32" >3</text><text x="366.1" y="443.2" font-size="8.5" font-weight="bold" text-anchor="middle" fill="#000" stroke="#000" stroke-width="0.32" >4</text><text x="393.95" y="443.2" font-size="8.5" font-weight="bold" text-anchor="middle" fill="#000" stroke="#000" stroke-width="0.32" >5</text><text x="421.8" y="443.2" font-size="8.5" font-weight="bold" text-anchor="middle" fill="#000" stroke="#000" stroke-width="0.32" >6</text><text x="449.9" y="443.2" font-size="8.5" font-weight="bold" text-anchor="middle" fill="#000" stroke="#000" stroke-width="0.32" >7</text><text x="478.0" y="443.2" font-size="8.5" font-weight="bold" text-anchor="middle" fill="#000" stroke="#000" stroke-width="0.32" >8</text><text x="506.0" y="443.2" font-size="8.5" font-weight="bold" text-anchor="middle" fill="#000" stroke="#000" stroke-width="0.32" >10</text><text x="533.95" y="443.2" font-size="8.5" font-weight="bold" text-anchor="middle" fill="#000" stroke="#000" stroke-width="0.32" >11</text><text x="561.9" y="443.2" font-size="8.5" font-weight="bold" text-anchor="middle" fill="#000" stroke="#000" stroke-width="0.32" >14</text><text x="590.15" y="443.2" font-size="8.5" font-weight="bold" text-anchor="middle" fill="#000" stroke="#000" stroke-width="0.32" >15</text><text x="618.5" y="443.2" font-size="8.5" font-weight="bold" text-anchor="middle" fill="#000" stroke="#000" stroke-width="0.32" >21</text><text x="646.5" y="443.2" font-size="8.5" font-weight="bold" text-anchor="middle" fill="#000" stroke="#000" stroke-width="0.32" >22</text><text x="31" y="468.2" font-size="8.5" font-weight="bold" text-anchor="middle" fill="#000" stroke="#000" stroke-width="0.32" >N</text><text x="77" y="468.2" font-size="8.5" font-weight="bold" text-anchor="middle" fill="#000" stroke="#000" stroke-width="0.32" >500</text><text x="170.0" y="468.2" font-size="8.5" font-weight="bold" text-anchor="middle" fill="#000" stroke="#000" stroke-width="0.32" >1</text><text x="198.0" y="468.2" font-size="8.5" font-weight="bold" text-anchor="middle" fill="#000" stroke="#000" stroke-width="0.32" >2</text><text x="225.9" y="468.2" font-size="8.5" font-weight="bold" text-anchor="middle" fill="#000" stroke="#000" stroke-width="0.32" >2</text><text x="253.9" y="468.2" font-size="8.5" font-weight="bold" text-anchor="middle" fill="#000" stroke="#000" stroke-width="0.32" >3</text><text x="282.1" y="468.2" font-size="8.5" font-weight="bold" text-anchor="middle" fill="#000" stroke="#000" stroke-width="0.32" >3</text><text x="310.2" y="468.2" font-size="8.5" font-weight="bold" text-anchor="middle" fill="#000" stroke="#000" stroke-width="0.32" >4</text><text x="338.1" y="468.2" font-size="8.5" font-weight="bold" text-anchor="middle" fill="#000" stroke="#000" stroke-width="0.32" >5</text><text x="366.1" y="468.2" font-size="8.5" font-weight="bold" text-anchor="middle" fill="#000" stroke="#000" stroke-width="0.32" >6</text><text x="393.95" y="468.2" font-size="8.5" font-weight="bold" text-anchor="middle" fill="#000" stroke="#000" stroke-width="0.32" >7</text><text x="421.8" y="468.2" font-size="8.5" font-weight="bold" text-anchor="middle" fill="#000" stroke="#000" stroke-width="0.32" >8</text><text x="449.9" y="468.2" font-size="8.5" font-weight="bold" text-anchor="middle" fill="#000" stroke="#000" stroke-width="0.32" >10</text><text x="478.0" y="468.2" font-size="8.5" font-weight="bold" text-anchor="middle" fill="#000" stroke="#000" stroke-width="0.32" >11</text><text x="506.0" y="468.2" font-size="8.5" font-weight="bold" text-anchor="middle" fill="#000" stroke="#000" stroke-width="0.32" >14</text><text x="533.95" y="468.2" font-size="8.5" font-weight="bold" text-anchor="middle" fill="#000" stroke="#000" stroke-width="0.32" >15</text><text x="561.9" y="468.2" font-size="8.5" font-weight="bold" text-anchor="middle" fill="#000" stroke="#000" stroke-width="0.32" >21</text><text x="590.15" y="468.2" font-size="8.5" font-weight="bold" text-anchor="middle" fill="#000" stroke="#000" stroke-width="0.32" >22</text><text x="31" y="493.2" font-size="8.5" font-weight="bold" text-anchor="middle" fill="#000" stroke="#000" stroke-width="0.32" >P</text><text x="77" y="493.2" font-size="8.5" font-weight="bold" text-anchor="middle" fill="#000" stroke="#000" stroke-width="0.32" >800</text><text x="113.9" y="493.2" font-size="8.5" font-weight="bold" text-anchor="middle" fill="#000" stroke="#000" stroke-width="0.32" >1</text><text x="141.75" y="493.2" font-size="8.5" font-weight="bold" text-anchor="middle" fill="#000" stroke="#000" stroke-width="0.32" >2</text><text x="170.0" y="493.2" font-size="8.5" font-weight="bold" text-anchor="middle" fill="#000" stroke="#000" stroke-width="0.32" >2</text><text x="198.0" y="493.2" font-size="8.5" font-weight="bold" text-anchor="middle" fill="#000" stroke="#000" stroke-width="0.32" >3</text><text x="225.9" y="493.2" font-size="8.5" font-weight="bold" text-anchor="middle" fill="#000" stroke="#000" stroke-width="0.32" >3</text><text x="253.9" y="493.2" font-size="8.5" font-weight="bold" text-anchor="middle" fill="#000" stroke="#000" stroke-width="0.32" >4</text><text x="282.1" y="493.2" font-size="8.5" font-weight="bold" text-anchor="middle" fill="#000" stroke="#000" stroke-width="0.32" >5</text><text x="310.2" y="493.2" font-size="8.5" font-weight="bold" text-anchor="middle" fill="#000" stroke="#000" stroke-width="0.32" >6</text><text x="338.1" y="493.2" font-size="8.5" font-weight="bold" text-anchor="middle" fill="#000" stroke="#000" stroke-width="0.32" >7</text><text x="366.1" y="493.2" font-size="8.5" font-weight="bold" text-anchor="middle" fill="#000" stroke="#000" stroke-width="0.32" >8</text><text x="393.95" y="493.2" font-size="8.5" font-weight="bold" text-anchor="middle" fill="#000" stroke="#000" stroke-width="0.32" >10</text><text x="421.8" y="493.2" font-size="8.5" font-weight="bold" text-anchor="middle" fill="#000" stroke="#000" stroke-width="0.32" >11</text><text x="449.9" y="493.2" font-size="8.5" font-weight="bold" text-anchor="middle" fill="#000" stroke="#000" stroke-width="0.32" >14</text><text x="478.0" y="493.2" font-size="8.5" font-weight="bold" text-anchor="middle" fill="#000" stroke="#000" stroke-width="0.32" >15</text><text x="506.0" y="493.2" font-size="8.5" font-weight="bold" text-anchor="middle" fill="#000" stroke="#000" stroke-width="0.32" >21</text><text x="533.95" y="493.2" font-size="8.5" font-weight="bold" text-anchor="middle" fill="#000" stroke="#000" stroke-width="0.32" >22</text><text x="31" y="518.2" font-size="8.5" font-weight="bold" text-anchor="middle" fill="#000" stroke="#000" stroke-width="0.32" >Q</text><text x="77" y="518.2" font-size="8.5" font-weight="bold" text-anchor="middle" fill="#000" stroke="#000" stroke-width="0.32" >1250</text><text x="113.9" y="518.2" font-size="8.5" font-weight="bold" text-anchor="middle" fill="#000" stroke="#000" stroke-width="0.32" >2</text><text x="141.75" y="518.2" font-size="8.5" font-weight="bold" text-anchor="middle" fill="#000" stroke="#000" stroke-width="0.32" >3</text><text x="170.0" y="518.2" font-size="8.5" font-weight="bold" text-anchor="middle" fill="#000" stroke="#000" stroke-width="0.32" >3</text><text x="198.0" y="518.2" font-size="8.5" font-weight="bold" text-anchor="middle" fill="#000" stroke="#000" stroke-width="0.32" >4</text><text x="225.9" y="518.2" font-size="8.5" font-weight="bold" text-anchor="middle" fill="#000" stroke="#000" stroke-width="0.32" >5</text><text x="253.9" y="518.2" font-size="8.5" font-weight="bold" text-anchor="middle" fill="#000" stroke="#000" stroke-width="0.32" >6</text><text x="282.1" y="518.2" font-size="8.5" font-weight="bold" text-anchor="middle" fill="#000" stroke="#000" stroke-width="0.32" >7</text><text x="310.2" y="518.2" font-size="8.5" font-weight="bold" text-anchor="middle" fill="#000" stroke="#000" stroke-width="0.32" >8</text><text x="338.1" y="518.2" font-size="8.5" font-weight="bold" text-anchor="middle" fill="#000" stroke="#000" stroke-width="0.32" >10</text><text x="366.1" y="518.2" font-size="8.5" font-weight="bold" text-anchor="middle" fill="#000" stroke="#000" stroke-width="0.32" >11</text><text x="393.95" y="518.2" font-size="8.5" font-weight="bold" text-anchor="middle" fill="#000" stroke="#000" stroke-width="0.32" >14</text><text x="421.8" y="518.2" font-size="8.5" font-weight="bold" text-anchor="middle" fill="#000" stroke="#000" stroke-width="0.32" >15</text><text x="449.9" y="518.2" font-size="8.5" font-weight="bold" text-anchor="middle" fill="#000" stroke="#000" stroke-width="0.32" >21</text><text x="478.0" y="518.2" font-size="8.5" font-weight="bold" text-anchor="middle" fill="#000" stroke="#000" stroke-width="0.32" >22</text><text x="31" y="543.2" font-size="8.5" font-weight="bold" text-anchor="middle" fill="#000" stroke="#000" stroke-width="0.32" >R</text><text x="77" y="543.2" font-size="8.5" font-weight="bold" text-anchor="middle" fill="#000" stroke="#000" stroke-width="0.32" >2000</text><text x="113.9" y="543.2" font-size="8.5" font-weight="bold" text-anchor="middle" fill="#000" stroke="#000" stroke-width="0.32" >3</text><text x="141.75" y="543.2" font-size="8.5" font-weight="bold" text-anchor="middle" fill="#000" stroke="#000" stroke-width="0.32" >4</text><text x="170.0" y="543.2" font-size="8.5" font-weight="bold" text-anchor="middle" fill="#000" stroke="#000" stroke-width="0.32" >5</text><text x="198.0" y="543.2" font-size="8.5" font-weight="bold" text-anchor="middle" fill="#000" stroke="#000" stroke-width="0.32" >6</text><text x="225.9" y="543.2" font-size="8.5" font-weight="bold" text-anchor="middle" fill="#000" stroke="#000" stroke-width="0.32" >7</text><text x="253.9" y="543.2" font-size="8.5" font-weight="bold" text-anchor="middle" fill="#000" stroke="#000" stroke-width="0.32" >8</text><text x="282.1" y="543.2" font-size="8.5" font-weight="bold" text-anchor="middle" fill="#000" stroke="#000" stroke-width="0.32" >10</text><text x="310.2" y="543.2" font-size="8.5" font-weight="bold" text-anchor="middle" fill="#000" stroke="#000" stroke-width="0.32" >11</text><text x="338.1" y="543.2" font-size="8.5" font-weight="bold" text-anchor="middle" fill="#000" stroke="#000" stroke-width="0.32" >14</text><text x="366.1" y="543.2" font-size="8.5" font-weight="bold" text-anchor="middle" fill="#000" stroke="#000" stroke-width="0.32" >15</text><text x="393.95" y="543.2" font-size="8.5" font-weight="bold" text-anchor="middle" fill="#000" stroke="#000" stroke-width="0.32" >21</text><text x="421.8" y="543.2" font-size="8.5" font-weight="bold" text-anchor="middle" fill="#000" stroke="#000" stroke-width="0.32" >22</text><text transform="translate(27.3 148) rotate(-90)" font-size="8.5" font-weight="bold" fill="#000" stroke="#000" stroke-width="0.2" textLength="46.5" lengthAdjust="spacingAndGlyphs">Sample Size</text><text transform="translate(39.8 148) rotate(-90)" font-size="8.5" font-weight="bold" fill="#000" stroke="#000" stroke-width="0.2" textLength="45" lengthAdjust="spacingAndGlyphs">Code Letter</text><text transform="translate(79.2 148.5) rotate(-90)" font-size="8.5" font-weight="bold" fill="#000" stroke="#000" stroke-width="0.2" textLength="47.5" lengthAdjust="spacingAndGlyphs">Sample Size</text><text x="120.5" y="40.2" font-size="28.6" font-weight="normal" text-anchor="start" fill="#000" textLength="134" lengthAdjust="spacingAndGlyphs">AQL Chart</text><text x="561" y="16.7" font-size="8.6" fill="#555" font-family="'Liberation Sans', Arial, sans-serif" textLength="170.5" lengthAdjust="spacingAndGlyphs">13T, 13th Floor, LvHua Building, No 2 HuanLin St,</text><text x="526.5" y="27.0" font-size="8.6" fill="#555" font-family="'Liberation Sans', Arial, sans-serif" textLength="205.0" lengthAdjust="spacingAndGlyphs">ShangMeiLin Area, Futian District, Shenzhen, China 518049</text><text x="535.8" y="37.3" font-size="8.6" fill="#555" font-family="'Liberation Sans','Noto Sans CJK SC',sans-serif" textLength="195.7" lengthAdjust="spacingAndGlyphs">深圳市福田区上梅林环林街2号绿化大厦13T，邮编：518049</text><text x="613.7" y="47.1" font-size="8.6" fill="#555" font-family="'Liberation Sans', Arial, sans-serif" textLength="117.8" lengthAdjust="spacingAndGlyphs">PH: +86-755-82860481, 82860482</text><text x="649.4" y="56.2" font-size="8.6" fill="#555" font-family="'Liberation Sans', Arial, sans-serif" textLength="82.1" lengthAdjust="spacingAndGlyphs">www.intouchquality.com</text></g><g fill="none" stroke="#4fc0d8" stroke-width="2.6" stroke-linecap="butt"><path d="M805.6 11 H742.6 Q739 11 739 14.6 V20.6"/><path d="M739 27.6 V47"/><path d="M744.8 47 V23.4 A5 5 0 0 1 754.8 23.4 V47"/><path d="M759.6 9.7 V47"/><rect x="764.4" y="18.2" width="9.6" height="27.6" rx="4.8"/><path d="M779.4 16.6 V40.6 A5.2 5.2 0 0 0 789.8 40.6 V16.6"/><path d="M805.2 18.2 H799 A4.6 4.6 0 0 0 794.4 22.8 V41 A4.6 4.6 0 0 0 799 45.6 H805.2"/><path d="M809.4 9.8 V47"/><path d="M809.4 23.2 A5 5 0 0 1 819.4 23.2 V47"/></g><path d="M736.3 20 H741.7 L739 22.7Z M739 25.7 L741.7 28.4 H736.3Z" fill="#4fc0d8"/><text x="737.2" y="57" font-size="8.2" font-weight="bold" fill="#3c3c3c" font-family="'Liberation Sans', Arial, sans-serif" textLength="83.6" lengthAdjust="spacingAndGlyphs">MANUFACTURING SERVICES</text></svg>
</body></html>
